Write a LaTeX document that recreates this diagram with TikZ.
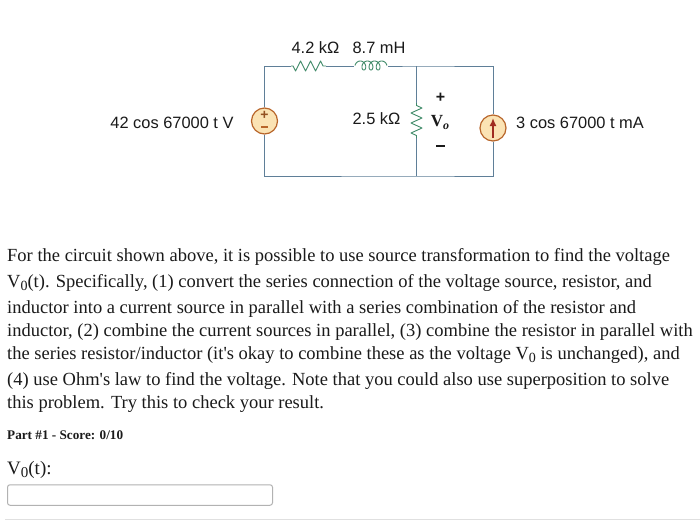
\documentclass[tikz,border=0pt]{standalone}
\usepackage{fontspec}
\usetikzlibrary{arrows.meta}
\setmainfont{Liberation Serif}
\newfontfamily\arialf{Liberation Sans}
\newfontfamily\plainf{Liberation Serif}
\definecolor{wirec}{HTML}{5F7F98}
\definecolor{compc}{HTML}{3F8A68}
\definecolor{srcfill}{HTML}{FBE3B4}
\definecolor{srcline}{HTML}{B8652A}
\definecolor{arrowc}{HTML}{A02C20}
\definecolor{txt}{HTML}{1A1A1A}
\newcommand{\Vsub}{V\raisebox{-3pt}{\fontsize{14}{14}\selectfont 0}}
\newcommand{\apo}{{\plainf '}}
\tikzset{
 wire/.style={draw=wirec,line width=0.9pt},
 comp/.style={draw=compc,line width=0.9pt,line join=round},
 src/.style={circle,draw=srcline,fill=srcfill,line width=1.2pt,minimum size=26pt,inner sep=0pt},
 lab/.style={font=\arialf\fontsize{16.4}{19}\selectfont,text=txt,inner sep=0pt},
 body/.style={font=\fontsize{18.5}{21}\selectfont,text=txt,inner sep=0pt,anchor=base west},
}
\begin{document}
\begin{tikzpicture}[x=1pt,y=-1pt]
\useasboundingbox (0,0) rectangle (700,523);
\fill[white] (0,0) rectangle (700,523);
% corners
\coordinate (tl) at (264.5,66);
\coordinate (tm) at (416.5,66);
\coordinate (tr) at (493,66);
\coordinate (bl) at (264.5,176);
\coordinate (bm) at (416.5,176);
\coordinate (br) at (493,176);
\coordinate (r1a) at (291,66);
\coordinate (r1b) at (326,66);
\coordinate (l1a) at (354,66);
\coordinate (l1b) at (388,66);
\coordinate (r2a) at (416.5,103);
\coordinate (r2b) at (416.5,138);
\node[src] (vs) at (264.5,121) {};
\node[src] (is) at (493,128) {};
\draw[wire] (vs.north) -- (tl) -- (r1a);
\draw[wire] (r1b) -- (l1a);
\draw[wire] (l1b) -- (tm) -- (tr) -- (is.north);
\draw[wire] (is.south) -- (br) -- (bm) -- (bl) -- (vs.south);
\draw[wire] (tm) -- (r2a);
\draw[wire] (r2b) -- (bm);
% resistor 1
\draw[comp] (r1a) -- ++(2,0) -- ++(2.5,5) -- ++(5,-10) -- ++(5,10) -- ++(5,-10) -- ++(5,10) -- ++(5,-10) -- ++(2.5,5) -- (r1b);
% inductor
\draw[comp] plot[smooth,domain=-90:1170,samples=127,variable=\t] ({358.5+0.0198*(\t+90)+3.5*sin(\t)},{65.5-4.5*cos(\t)});
% resistor 2
\draw[comp] (r2a) -- ++(0,2.5) -- ++(5.5,2.5) -- ++(-11,5) -- ++(11,5) -- ++(-11,5) -- ++(11,5) -- ++(-11,5) -- ++(5.5,2.5) -- (r2b);
% source marks
\node[inner sep=0pt,text=srcline!80!black,font=\arialf\bfseries\fontsize{14}{14}\selectfont] (vp) at (264.5,115) {+};
\node[inner sep=0pt,minimum width=7.5pt,minimum height=1.3pt,fill=srcline] (vm) at (264.5,127) {};
\coordinate (a1) at (493,138);
\coordinate (a2) at (493,118);
\draw[arrowc,line width=1.6pt,-{Latex[length=8pt,width=7pt]}] (a1) -- (a2);
% labels
\node[lab] (l1) at (172,123) {42 cos 67000 t V};
\node[lab] (l2) at (315.5,47.5) {4.2 k\symbol{"03A9}};
\node[lab] (l3) at (379,47.5) {8.7 mH};
\node[lab] (l4) at (376.5,119) {2.5 k\symbol{"03A9}};
\node[lab] (l5) at (580,123) {3 cos 67000 t mA};
\node[inner sep=0pt,font=\arialf\bfseries\fontsize{16}{16}\selectfont,text=txt] (pl) at (440.5,98) {+};
\node[inner sep=0pt,text=txt,font=\bfseries\fontsize{17}{17}\selectfont] (vo) at (440,122.5) {V\raisebox{-3pt}{\fontsize{12}{12}\selectfont\itshape o}};
\node[inner sep=0pt,minimum width=9pt,minimum height=1.6pt,fill=txt] (mi) at (440.5,146) {};
% body text
\node[body] (t1) at (7,261) {For the circuit shown above, it is possible to use source transformation to find the voltage};
\node[body] (t2) at (7,287) {\Vsub(t). Specifically, (1) convert the series connection of the voltage source, resistor, and};
\node[body] (t3) at (7,313) {inductor into a current source in parallel with a series combination of the resistor and};
\node[body] (t4) at (7,336) {inductor, (2) combine the current sources in parallel, (3) combine the resistor in parallel with};
\node[body] (t5) at (7,359) {the series resistor/inductor (it\apo s okay to combine these as the voltage \Vsub\ is unchanged), and};
\node[body] (t6) at (7,385) {(4) use Ohm\apo s law to find the voltage. Note that you could also use superposition to solve};
\node[body] (t7) at (7,408) {this problem. Try this to check your result.};
\node[body,font=\bfseries\fontsize{13.2}{15}\selectfont] (t8) at (7,439) {Part \#1 - Score: 0/10};
\node[body,font=\fontsize{19}{22}\selectfont] (t9) at (7,474) {V\raisebox{-3pt}{\fontsize{15}{15}\selectfont 0}(t):};
\node[draw=black!30,line width=1pt,rounded corners=2.5pt,fill=white,minimum width=265pt,minimum height=20.5pt,inner sep=0pt] (box) at (140,495) {};
\fill[black!12] (5,518.5) rectangle (700,520);
\end{tikzpicture}
\end{document}
